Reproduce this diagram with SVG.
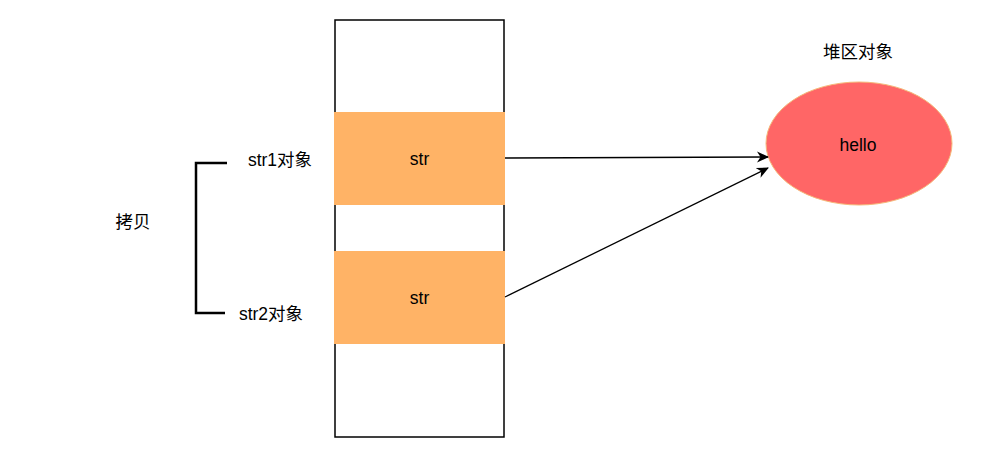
<svg xmlns="http://www.w3.org/2000/svg" width="992" height="458" viewBox="0 0 992 458">
<defs>
<style>
text{font-family:"Liberation Sans","Noto Sans CJK SC",sans-serif;font-size:17.5px;fill:#000;}
.c{text-anchor:middle;dominant-baseline:central;}
.edge{stroke:#000;stroke-width:1.3;fill:none;}
</style>
<marker id="arr" markerWidth="12" markerHeight="12" refX="11" refY="6" orient="auto" markerUnits="userSpaceOnUse" viewBox="0 0 12 12">
<path d="M0,0.5 L12,6 L0,11.5 L3.5,6 Z" fill="#000"/>
</marker>
</defs>
<rect width="992" height="458" fill="#fff"/>
<g id="stack">
<rect x="335" y="20" width="169" height="417" fill="#fff" stroke="#000" stroke-width="1.5"/>
</g>
<g id="str1">
<rect x="334" y="112" width="171" height="93" fill="#FFB366"/>
<text class="c" x="419.5" y="159">str</text>
</g>
<g id="str2">
<rect x="334" y="251" width="171" height="93" fill="#FFB366"/>
<text class="c" x="419.5" y="298">str</text>
</g>
<g id="heap">
<ellipse cx="859" cy="143.5" rx="93" ry="61.5" fill="#FF6666" stroke="#F5B97A" stroke-width="1"/>
<text class="c" x="858" y="145">hello</text>
</g>
<g id="labels">
<text class="c" x="858" y="52">堆区对象</text>
<text class="c" x="280" y="160">str1对象</text>
<text class="c" x="271" y="314">str2对象</text>
<text class="c" x="133" y="222">拷贝</text>
</g>
<g id="bracket">
<path d="M227,163 H196 V313 H225" stroke="#000" stroke-width="2.5" fill="none"/>
</g>
<g id="connectors">
<path class="edge" d="M505,158 L768,157" marker-end="url(#arr)"/>
<path class="edge" d="M505,297 L768,168" marker-end="url(#arr)"/>
</g>
</svg>
